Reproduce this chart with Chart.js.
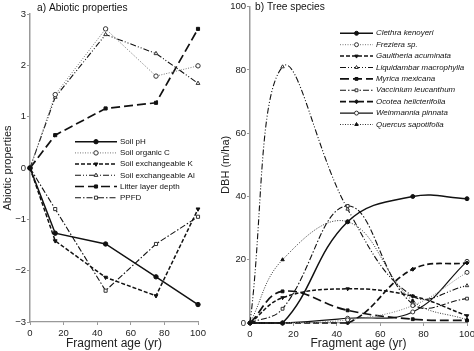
<!DOCTYPE html>
<html><head><meta charset="utf-8">
<script src="https://cdn.jsdelivr.net/npm/chart.js@4/dist/chart.umd.min.js"></script>
<style>
html,body{margin:0;padding:0;background:#fff;overflow:hidden;width:474px;height:351px;position:relative;}
#wa{position:absolute;left:0;top:0;width:237px;height:351px;}
#wb{position:absolute;left:212px;top:0;width:280px;height:351px;}
</style></head><body>
<div id="wa"><canvas id="ca"></canvas></div>
<div id="wb"><canvas id="cb"></canvas></div>
<script>
// ---- data ----
const ages = [0, 15, 45, 75, 100];
const xTicks = [0, 20, 40, 60, 80, 100];
const abioticTicks = [-3, -2, -1, 0, 1, 2, 3];
const dbhTicks = [0, 20, 40, 60, 80, 100];

// a) Abiotic properties
const abioticNames = ['Soil pH', 'Soil organic C', 'Soil exchangeable K', 'Soil exchangeable Al', 'Litter layer depth', 'PPFD'];
const soilPH      = [0, -1.27, -1.48, -2.12, -2.66];
const soilOrgC    = [0, 1.43, 2.71, 1.79, 1.99];
const soilK       = [0, -1.42, -2.13, -2.49, -0.80];
const soilAl      = [0, 1.38, 2.60, 2.23, 1.65];
const litterDepth = [0, 0.64, 1.16, 1.27, 2.71];
const ppfd        = [0, -0.80, -2.39, -1.48, -0.95];

// b) Tree species (DBH, m/ha)
const speciesNames = ['Clethra kenoyeri', 'Freziera sp.', 'Gaultheria acuminata', 'Liquidambar macrophylla', 'Myrica mexicana', 'Vaccinium leucanthum', 'Ocotea helicterifolia', 'Weinmannia pinnata', 'Quercus sapotifolia'];
const clethra     = [0, 0, 32, 40, 39.3];
const freziera    = [0, 0, 1, 5.5, 16];
const gaultheria  = [0, 8, 10.8, 8.5, 2.3];
const liquidambar = [0, 81, 36, 8.5, 11.8];
const myrica      = [0, 10, 4, 1.2, 0.8];
const vaccinium   = [0, 4.5, 37, 6, 7.7];
const ocotea      = [0, 0, 0, 17, 19];
const weinmannia  = [0, 0, 1.5, 3.5, 19.5];
const quercus     = [0, 20, 32, 7, 1];

// ---- styles ----
const BLK = '#111', GRY = '#777', AX = '#999';
const ST = {
  solid:   {dash: [], w: 1.5, c: BLK},
  solidT:  {dash: [], w: 1.2, c: BLK},
  dot:     {dash: [1, 1.5], w: 1, c: GRY},
  dotB:    {dash: [1, 1.5], w: 1, c: '#333'},
  dash:    {dash: [4, 2], w: 1.5, c: BLK},
  dashH:   {dash: [6, 3], w: 1.7, c: BLK},
  longdash:{dash: [9, 4], w: 1.7, c: BLK},
  dd:      {dash: [6, 2, 1, 2, 1, 2], w: 1.1, c: BLK},
  dashdot: {dash: [6, 2, 1.5, 2], w: 1.1, c: BLK}
};
const MK = {
  fc: {s: 'circle', f: true}, oc: {s: 'circle', f: false},
  fdt: {s: 'triangle', f: true, r: 180}, ot: {s: 'triangle', f: false},
  fs: {s: 'rect', f: true}, os: {s: 'rect', f: false},
  fd: {s: 'rectRot', f: true}, ft: {s: 'triangle', f: true}
};
function mk(label, vals, st, m, rad, tension) {
  const s = ST[st], k = MK[m];
  return {
    label: label,
    data: ages.map((a, i) => ({x: a, y: vals[i]})),
    borderColor: s.c, borderWidth: s.w, borderDash: s.dash,
    pointStyle: k.s, pointRotation: k.r || 0, pointRadius: rad,
    pointBackgroundColor: k.f ? BLK : '#fff', pointBorderColor: k.f ? BLK : '#333', pointBorderWidth: 1,
    fill: false, tension: tension, clip: false
  };
}

Chart.defaults.font.family = '"Liberation Sans", Arial, Helvetica, sans-serif';
Chart.defaults.color = '#222';
Chart.defaults.animation = false;

const legendPlugin = {
  id: 'customLegend',
  afterDraw(chart, args, o) {
    const ctx = chart.ctx;
    ctx.save();
    chart.data.datasets.forEach((ds, i) => {
      const y = o.y0 + i * o.dy;
      ctx.strokeStyle = ds.borderColor; ctx.lineWidth = ds.borderWidth;
      ctx.setLineDash(ds.borderDash || []);
      ctx.beginPath(); ctx.moveTo(o.x1, y); ctx.lineTo(o.x2, y); ctx.stroke();
      ctx.setLineDash([]);
      ctx.fillStyle = ds.pointBackgroundColor; ctx.strokeStyle = ds.pointBorderColor; ctx.lineWidth = 1;
      Chart.helpers.drawPoint(ctx, {pointStyle: ds.pointStyle, rotation: ds.pointRotation, radius: ds.pointRadius, borderWidth: 1}, (o.x1 + o.x2) / 2, y);
      ctx.fillStyle = '#111'; ctx.font = o.font; ctx.textBaseline = 'middle'; ctx.textAlign = 'left';
      ctx.fillText(ds.label, o.x2 + 3, y);
    });
    ctx.restore();
  }
};
const panelTitlePlugin = {
  id: 'panelTitle',
  afterDraw(chart, args, o) {
    const ctx = chart.ctx;
    ctx.save();
    ctx.fillStyle = '#111'; ctx.font = o.font; ctx.textBaseline = 'middle'; ctx.textAlign = 'left';
    ctx.fillText(o.text, o.x, o.y);
    ctx.restore();
  }
};

function axes(yMin, yMax, yTicks, yTitle, yW, yTitlePad, xH) {
  const grid = {drawOnChartArea: false, drawTicks: true, tickLength: 3, color: AX};
  return {
    x: {type: 'linear', min: 0, max: 100,
        afterBuildTicks: s => { s.ticks = xTicks.map(v => ({value: v})); },
        ticks: {font: {size: 9.5}, padding: 3, color: '#222'},
        grid: grid, border: {color: AX, width: 1.2},
        title: {display: true, text: 'Fragment age (yr)', font: {size: 12}, color: '#222', padding: {top: 0, bottom: 0}},
        afterFit: s => { s.height = xH; }},
    y: {type: 'linear', min: yMin, max: yMax,
        afterBuildTicks: s => { s.ticks = yTicks.map(v => ({value: v})); },
        ticks: {font: {size: 9.5}, padding: 1, color: '#222', callback: v => String(v).replace('-', '\u2212')},
        grid: grid, border: {color: AX, width: 1.5},
        title: {display: true, text: yTitle, font: {size: 11}, color: '#222', padding: {top: yTitlePad, bottom: 0}},
        afterFit: s => { s.width = yW; }}
  };
}

const abioticVals = [soilPH, soilOrgC, soilK, soilAl, litterDepth, ppfd];
const abioticSty = [['solid', 'fc'], ['dot', 'oc'], ['dash', 'fdt'], ['dd', 'ot'], ['longdash', 'fs'], ['dashdot', 'os']];
new Chart(document.getElementById('ca'), {
  type: 'line',
  data: {datasets: abioticNames.map((n, i) => mk(n, abioticVals[i], abioticSty[i][0], abioticSty[i][1], 2.2, 0))},
  options: {
    responsive: true, maintainAspectRatio: false,
    layout: {padding: {left: 0, top: 14, right: 39, bottom: 0}},
    scales: axes(-3, 3, abioticTicks, 'Abiotic properties', 30, 1, 29),
    plugins: {
      legend: {display: false}, tooltip: {enabled: false},
      customLegend: {x1: 75, x2: 117, y0: 141.7, dy: 11.2, font: '8px "Liberation Sans", Arial, sans-serif'},
      panelTitle: {text: 'a) Abiotic properties', x: 37, y: 8, font: '10.2px "Liberation Sans", Arial, sans-serif'}
    }
  },
  plugins: [legendPlugin, panelTitlePlugin]
});

const speciesVals = [clethra, freziera, gaultheria, liquidambar, myrica, vaccinium, ocotea, weinmannia, quercus];
const speciesSty = [['solid', 'fc'], ['dot', 'oc'], ['dash', 'fdt'], ['dd', 'ot'], ['longdash', 'fs'], ['dashdot', 'os'], ['dashH', 'fd'], ['solidT', 'oc'], ['dotB', 'ft']];
new Chart(document.getElementById('cb'), {
  type: 'line',
  data: {datasets: speciesNames.map((n, i) => mk(n, speciesVals[i], speciesSty[i][0], speciesSty[i][1], 2, 0.4))},
  options: {
    responsive: true, maintainAspectRatio: false,
    layout: {padding: {left: 0, top: 2, right: 25, bottom: 0}},
    scales: axes(0, 100, dbhTicks, 'DBH (m/ha)', 38, 7, 28),
    plugins: {
      legend: {display: false}, tooltip: {enabled: false},
      customLegend: {x1: 128, x2: 161, y0: 33.3, dy: 11.4, font: 'italic 7.9px "Liberation Sans", Arial, sans-serif'},
      panelTitle: {text: 'b) Tree species', x: 43, y: 7, font: '10.2px "Liberation Sans", Arial, sans-serif'}
    }
  },
  plugins: [legendPlugin, panelTitlePlugin]
});
</script>
</body></html>
